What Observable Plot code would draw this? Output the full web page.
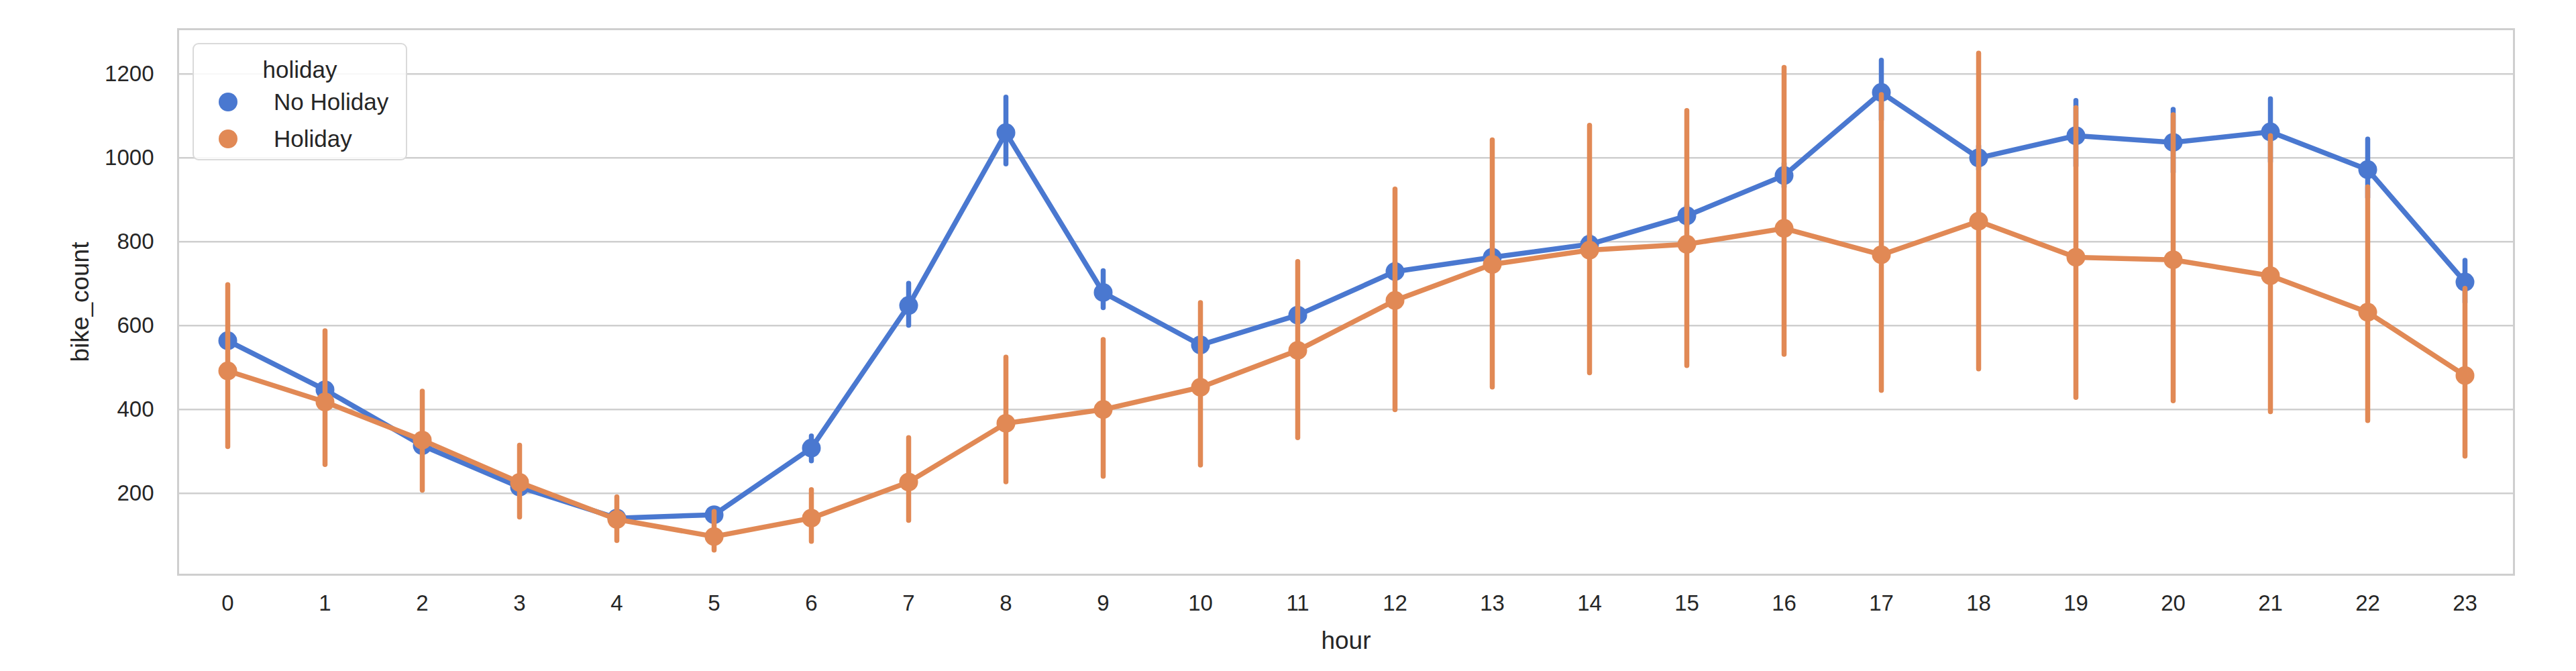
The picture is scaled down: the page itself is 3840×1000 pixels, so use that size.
<!DOCTYPE html>
<html>
<head>
<meta charset="utf-8">
<script src="https://cdn.jsdelivr.net/npm/d3@7"></script>
<script src="https://cdn.jsdelivr.net/npm/@observablehq/plot@0.6"></script>
<style>
  body { margin: 0; background: #fff; font-family: "Liberation Sans", Arial, sans-serif; }
  #wrap { position: relative; width: 3840px; height: 1000px; }
  #wrap svg { font-family: "Liberation Sans", Arial, sans-serif; color: #262626; }
  #wrap svg [aria-label="y-axis label"] text, #wrap svg [aria-label="x-axis label"] text { font-size: 37px; fill: #262626; }
  #legend { position: absolute; left: 287px; top: 64px; width: 316px; height: 171px;
    border: 2.5px solid #dadada; border-radius: 9px; background: rgba(255,255,255,0.85);
    color: #262626; font-size: 35px; }
  #legend .title { position: absolute; left: 0; right: 0; top: 18px; line-height: 40px; text-align: center; }
  #legend .row { position: absolute; left: 0; height: 40px; line-height: 40px; }
  #legend .dot { position: absolute; left: 37px; top: 6px; width: 28px; height: 28px; border-radius: 50%; }
  #legend .lab { position: absolute; left: 119px; white-space: nowrap; }
</style>
</head>
<body>
<div id="wrap"></div>
<script>
// ---- data ----
const hours = [0,1,2,3,4,5,6,7,8,9,10,11,12,13,14,15,16,17,18,19,20,21,22,23];
const seriesNames = ["No Holiday", "Holiday"];
const seriesColors = ["#4a78d0", "#e18955"];

const noHolidayMean = [564,447,314,215,141,149,308,648,1060,679,554,625,729,763,794,862,958,1156,1000,1053,1037,1062,972,704];
const noHolidayLow  = [545,430,300,204,133,140,277,600,985,642,535,606,708,742,772,838,930,1090,972,980,965,990,905,655];
const noHolidayHigh = [583,464,328,226,149,158,336,700,1144,730,573,644,750,784,816,886,986,1232,1028,1136,1115,1140,1044,755];

const holidayMean = [492,418,327,226,138,97,141,227,367,400,453,541,660,746,780,794,832,769,849,763,757,719,632,481];
const holidayLow  = [311,268,207,143,87,64,85,135,227,240,267,332,399,453,487,504,531,445,496,428,420,394,373,288];
const holidayHigh = [697,587,443,314,191,156,208,332,524,566,654,752,925,1042,1077,1112,1215,1150,1249,1119,1102,1052,930,688];

const yTicks = [200,400,600,800,1000,1200];
const yDomain = [6, 1307];

// ---- build tables ----
function table(mean, low, high) {
  return hours.map((h, i) => ({hour: h, mean: mean[i], low: low[i], high: high[i]}));
}
const tables = [
  table(noHolidayMean, noHolidayLow, noHolidayHigh),
  table(holidayMean, holidayLow, holidayHigh)
];

const marks = [
  Plot.gridY(yTicks, {stroke: "#cfcfcf", strokeOpacity: 1, strokeWidth: 2.5}),
  Plot.frame({stroke: "#cfcfcf", strokeWidth: 3}),
  Plot.axisY(yTicks, {tickSize: 0, tickPadding: 36, fontSize: 33, tickFormat: d => String(d),
    label: "bike_count", labelAnchor: "center", labelOffset: 160, labelArrow: "none"}),
  Plot.axisX(hours, {tickSize: 0, tickPadding: 30, fontSize: 33, tickFormat: d => String(d),
    label: "hour", labelAnchor: "center", labelOffset: 110, labelArrow: "none"})
];
tables.forEach((t, k) => {
  const c = seriesColors[k];
  marks.push(
    Plot.ruleX(t, {x: "hour", y1: "low", y2: "high", stroke: c, strokeWidth: 7.5, strokeLinecap: "round"}),
    Plot.line(t, {x: "hour", y: "mean", stroke: c, strokeWidth: 7.5, strokeLinejoin: "round"}),
    Plot.dot(t, {x: "hour", y: "mean", fill: c, stroke: "none", r: 14})
  );
});

const chart = Plot.plot({
  width: 3840,
  height: 1000,
  marginLeft: 265,
  marginRight: 93,
  marginTop: 43,
  marginBottom: 144,
  style: {background: "#fff", fontSize: "33px"},
  x: {type: "point", domain: hours, padding: 0.5},
  y: {domain: yDomain},
  marks
});
const wrap = document.getElementById("wrap");
wrap.appendChild(chart);

// ---- legend ----
const legend = document.createElement("div");
legend.id = "legend";
let html = '<div class="title">holiday</div>';
seriesNames.forEach((n, i) => {
  html += `<div class="row" style="top:${66 + i * 55}px"><span class="dot" style="background:${seriesColors[i]}"></span><span class="lab">${n}</span></div>`;
});
legend.innerHTML = html;
wrap.appendChild(legend);
</script>
</body>
</html>
